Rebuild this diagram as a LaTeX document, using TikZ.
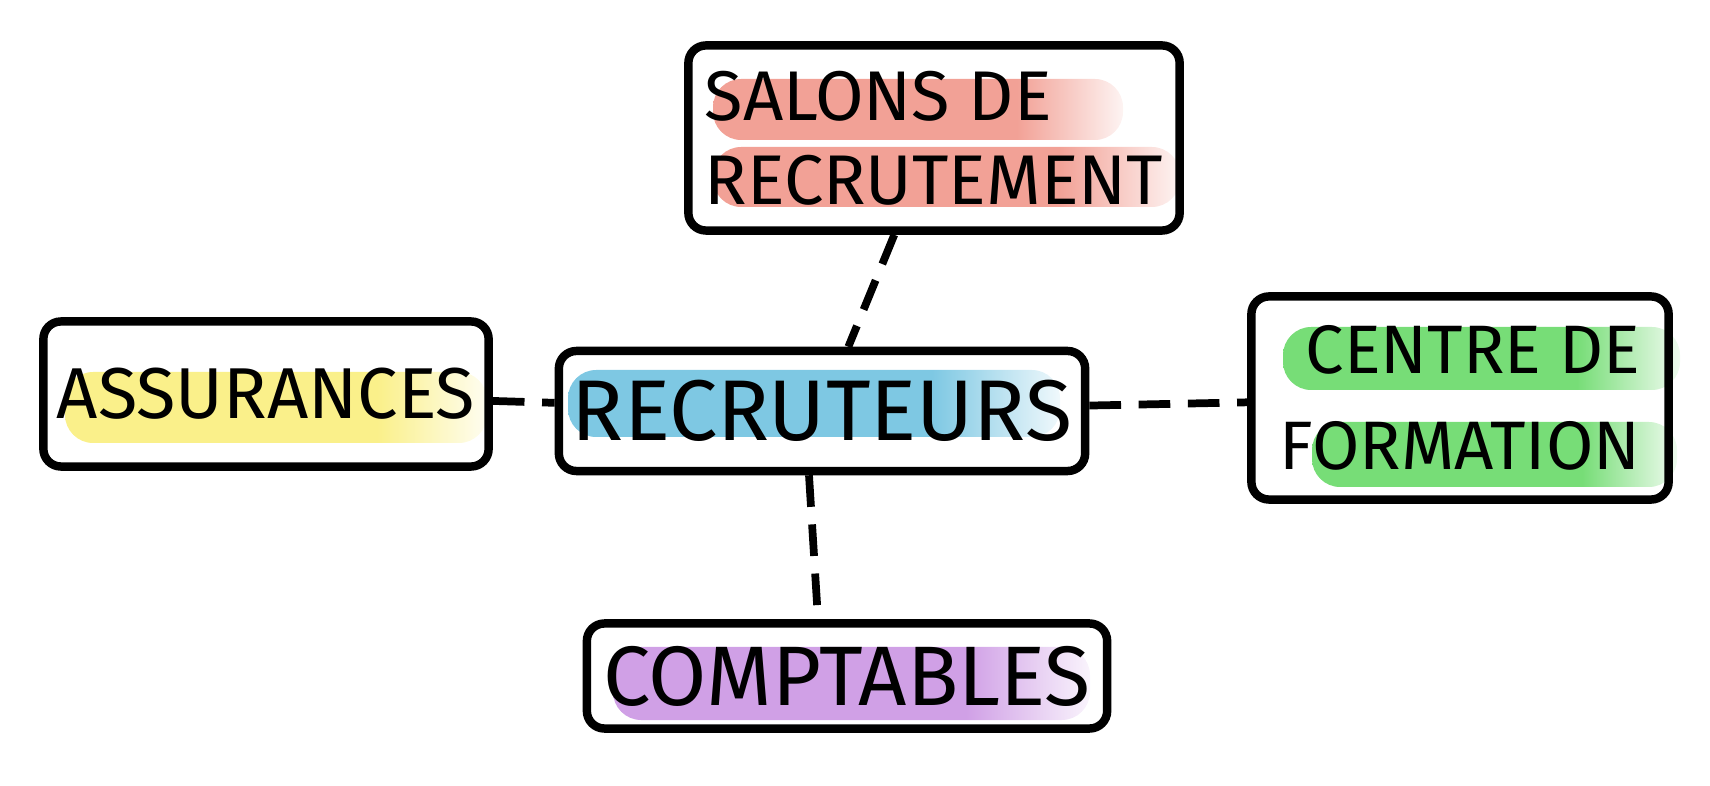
\documentclass[tikz,border=0pt]{standalone}
\usepackage{fontspec}
\setmainfont{Fira Sans}
\usetikzlibrary{positioning}

\definecolor{hlred}{HTML}{F2A196}
\definecolor{hlblue}{HTML}{7EC8E3}
\definecolor{hlgreen}{HTML}{77DD77}
\definecolor{hlpurple}{HTML}{D0A0E6}
\definecolor{hlyellow}{HTML}{FAF08A}
\colorlet{markercolor}{hlred}
\pgfdeclarehorizontalshading[markercolor]{markerfade}{100bp}{color(0bp)=(markercolor);
  color(62bp)=(markercolor); color(75bp)=(markercolor!12); color(100bp)=(markercolor!12)}

\begin{document}
\begin{tikzpicture}[
      x=0.01cm, y=-0.01cm,
      box/.style={draw,line width=2.4pt,rounded corners=5pt,inner sep=0pt,
        font=\fontsize{#1}{#1}\selectfont},
      box/.default=24,
      marker/.style={rounded corners=8pt,/utils/exec={\colorlet{markercolor}{#1}},shading=markerfade},
      link/.style={line width=2.2pt,dash pattern=on 9pt off 5pt}
      ]
      \useasboundingbox (0,0) rectangle (1710,786);
      % highlights
      \shade [marker=hlred] (713,79) rectangle (1123,140);
      \shade [marker=hlred] (713,147) rectangle (1180,207);
      \shade [marker=hlyellow] (65,372) rectangle (487,443);
      \shade [marker=hlblue] (568,370) rectangle (1060,437);
      \shade [marker=hlgreen] (1283,327) rectangle (1680,390);
      \shade [marker=hlgreen] (1312,422) rectangle (1677,487);
      \shade [marker=hlpurple] (613,647) rectangle (1090,720);
      % nodes
      \node [box=20,minimum width=4.91cm,minimum height=1.85cm,align=left] (salons) at (934,138)
        {SALONS DE\\[4pt]RECRUTEMENT};
      \node [box=20.5,minimum width=4.45cm,minimum height=1.45cm] (assur) at (266,394) {ASSURANCES};
      \node [box=24.5,minimum width=5.26cm,minimum height=1.2cm] (recr) at (822,411) {RECRUTEURS};
      \node [box=19.5,minimum width=4.17cm,minimum height=2.03cm,align=right] (centre) at (1460,398)
        {CENTRE DE\\[8pt]FORMATION};
      \node [box=24,minimum width=5.2cm,minimum height=1.05cm] (compt) at (847,676) {COMPTABLES};
      % links
      \draw [link] (salons) -- (recr);
      \draw [link] (assur) -- (recr);
      \draw [link] (recr) -- (centre);
      \draw [link] ([xshift=-0.13cm]recr.south) -- ([xshift=-0.29cm]compt.north);
\end{tikzpicture}
\end{document}
